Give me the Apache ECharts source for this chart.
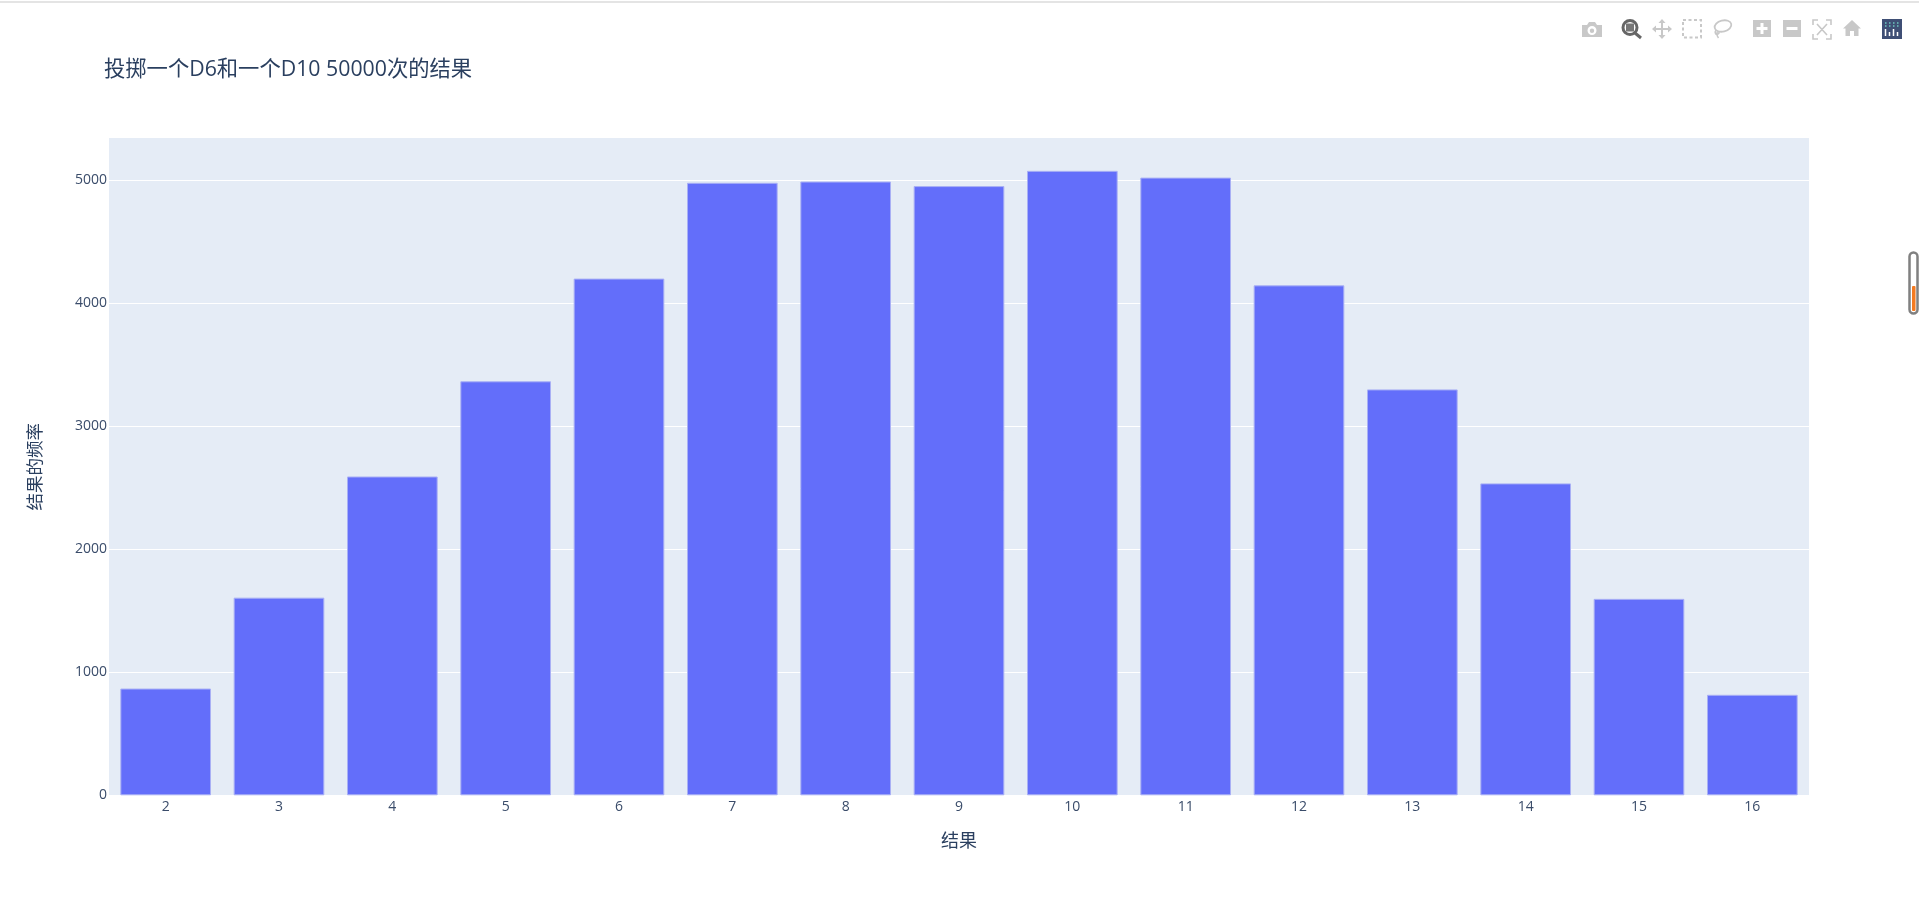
<!DOCTYPE html>
<html>
<head>
<meta charset="utf-8">
<style>html,body{margin:0;padding:0;background:#fff;overflow:hidden}#c{width:1919px;height:901px}</style>
<script src="https://cdn.jsdelivr.net/npm/echarts@6/dist/echarts.min.js"></script>
</head>
<body>
<div id="c"></div>
<script>
const categories = ['2','3','4','5','6','7','8','9','10','11','12','13','14','15','16'];
const frequencies = [868,1607,2592,3366,4201,4980,4990,4953,5077,5022,4146,3300,2536,1597,817];
const titleText = '投掷一个D6和一个D10 50000次的结果';
const xTitle = '结果';
const yTitle = '结果的频率';
const FONT = '"Open Sans","Noto Sans CJK SC",sans-serif';
const INK = '#2a3f5f';
const TICK = '#3a4c6a';
const GREY = '#c8c8c8';

const chart = echarts.init(document.getElementById('c'), null, {renderer:'canvas'});
const g = (o) => Object.assign({silent:true}, o);
let pathCount = 0;
const p = (d, style) => {
  const name = 'toolbarIcon' + (pathCount++);
  echarts.graphic.registerShape(name, echarts.graphic.extendPath(d, {}));
  return g({type:name, style:style});
};
const icons = [
  g({type:'rect', shape:{x:0,y:1,width:1919,height:2}, style:{fill:'#e4e4e4'}}),
  p('M1582 25h5l2-3h6l2 3h5v12h-20z M1592 26a4.5 4.5 0 1 0 .01 0z M1592 28.5a2.2 2.2 0 1 1-.01 0z', {fill:GREY}),
  g({type:'circle', shape:{cx:1630,cy:27.5,r:7}, style:{fill:'#fff',stroke:'#666',lineWidth:3}}),
  g({type:'rect', shape:{x:1626,y:23.5,width:8,height:8}, style:{fill:'#777'}}),
  g({type:'line', shape:{x1:1635,y1:33,x2:1641,y2:38}, style:{stroke:'#666',lineWidth:3}}),
  p('M1662 19l3.5 4h-2.5v5h5v-2.5l4 3.5-4 3.5v-2.5h-5v5h2.5l-3.5 4-3.5-4h2.5v-5h-5v2.5l-4-3.5 4-3.5v2.5h5v-5h-2.5z', {fill:GREY}),
  g({type:'rect', shape:{x:1683,y:20,width:18,height:17.5}, style:{fill:'none',stroke:GREY,lineWidth:2,lineDash:[3,2.5]}}),
  g({type:'ellipse', shape:{cx:1723,cy:26,rx:8.5,ry:5.5}, rotation:0.25, originX:1723, originY:26, style:{fill:'none',stroke:GREY,lineWidth:1.8}}),
  p('M1716 30c-2 3 0 5 2 4s1-3-.5-2c-1.5 1-.5 4 1 6', {fill:'none',stroke:GREY,lineWidth:1.5}),
  g({type:'rect', shape:{x:1753,y:20,width:18,height:17}, style:{fill:GREY}}),
  g({type:'rect', shape:{x:1756.5,y:27,width:11,height:3}, style:{fill:'#fff'}}),
  g({type:'rect', shape:{x:1760.5,y:23,width:3,height:11}, style:{fill:'#fff'}}),
  g({type:'rect', shape:{x:1783,y:20,width:18,height:17}, style:{fill:GREY}}),
  g({type:'rect', shape:{x:1786.5,y:27,width:11,height:3}, style:{fill:'#fff'}}),
  p('M1813 25v-5h5 M1826 20h5v5 M1831 34v5h-5 M1818 39h-5v-5 M1817 24l10 11 M1827 24l-10 11', {fill:'none',stroke:GREY,lineWidth:1.6}),
  p('M1852 20l9 8.5h-2.5v7.500h-4.5v-5h-4v5h-4.5v-7.5h-2.5z', {fill:GREY}),
  g({type:'rect', shape:{x:1882,y:19,width:20,height:20}, style:{fill:'#3f4f75'}}),
  p('M1885.5 29v7 M1889.5 32v4 M1893.5 29v7 M1897.5 32v4', {fill:'none',stroke:'#fff',lineWidth:1.5}),
  p('M1885 23h1.5 M1889 23h1.5 M1893 23h1.5 M1897 23h1.5 M1885 26h1.5 M1889 26h1.5 M1893 26h1.5 M1897 26h1.5', {fill:'none',stroke:'#6ec8c0',lineWidth:1.5}),
  g({type:'rect', shape:{x:1909.5,y:252.5,width:8,height:61,r:4}, style:{fill:'#fff',stroke:'#808080',lineWidth:2.5}}),
  g({type:'rect', shape:{x:1912,y:286,width:3.5,height:25,r:1}, style:{fill:'#f47a20'}})
];

chart.setOption({
  animation:false,
  backgroundColor:'#fff',
  textStyle:{fontFamily:FONT},
  title:{
    text:titleText, left:99, top:54,
    textStyle:{fontFamily:FONT, fontSize:21.3, fontWeight:'normal', color:INK}
  },
  grid:{
    left:109, right:110, top:138, bottom:105.7,
    show:true, backgroundColor:'#E5ECF6', borderWidth:0, containLabel:false
  },
  xAxis:{
    type:'category', data:categories,
    name:xTitle, nameLocation:'middle', nameGap:38,
    nameTextStyle:{fontFamily:FONT, fontSize:18, color:INK},
    axisLine:{show:false}, axisTick:{show:false}, splitLine:{show:false},
    axisLabel:{fontFamily:FONT, fontSize:14, color:TICK, margin:5, interval:0}
  },
  yAxis:{
    type:'value', min:0, max:5344, interval:1000,
    name:yTitle, nameLocation:'middle', nameGap:64, nameRotate:90,
    nameTextStyle:{fontFamily:FONT, fontSize:17.5, color:INK},
    axisLine:{show:false}, axisTick:{show:false},
    splitLine:{show:true, showMaxLine:false, lineStyle:{color:'#fff', width:1}},
    axisLabel:{fontFamily:FONT, fontSize:14, color:TICK, margin:2, showMaxLabel:false, formatter:(v) => String(v)}
  },
  series:[{
    type:'bar', data:frequencies, barCategoryGap:'20%',
    itemStyle:{color:'#636efa', borderColor:'#a9b0f5', borderWidth:1},
    silent:true
  }],
  graphic:{elements:icons}
});
</script>
</body>
</html>
